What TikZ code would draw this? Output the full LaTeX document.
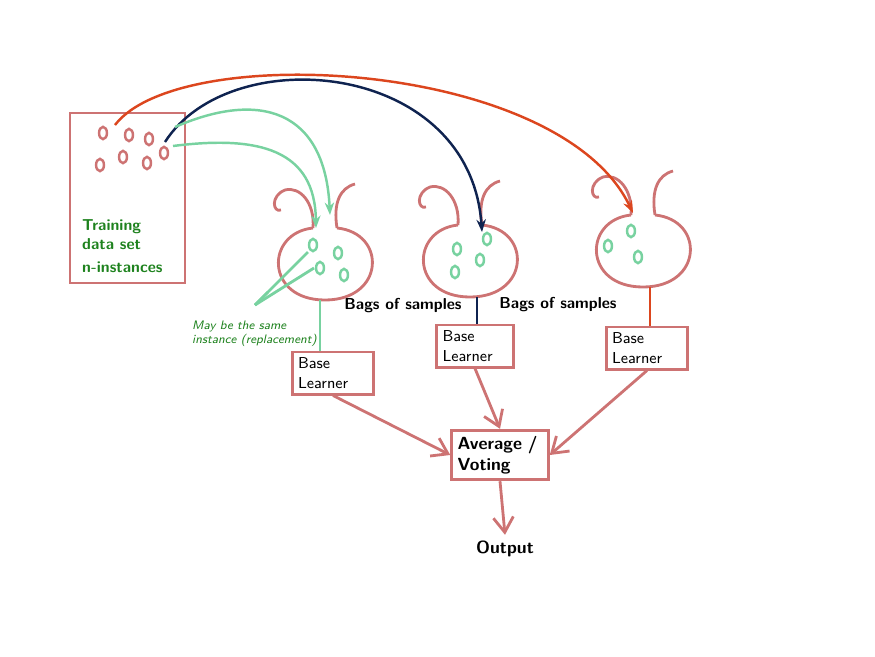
\documentclass[tikz,border=0pt]{standalone}
\usepackage{tikz}
\usetikzlibrary{positioning}
\usetikzlibrary{arrows.meta}
\usetikzlibrary{shapes.geometric}
\definecolor{pinkline}{RGB}{205,115,115}
\definecolor{mintline}{RGB}{120,210,160}
\definecolor{navyline}{RGB}{15,35,80}
\definecolor{redline}{RGB}{220,70,30}
\definecolor{darkgreen}{RGB}{30,130,30}
\tikzset{
  box/.style={rectangle,draw=pinkline,line width=1.6pt,align=left,font=\sffamily\small},
  bigarrow/.style={-{Straight Barb[length=3mm,width=4mm]},draw=pinkline,line width=1.6pt},
  curvearrow/.style={-{Stealth[length=2.5mm]},line width=1.4pt},
  bagline/.style={draw=pinkline,line width=1.6pt},
  seed/.style={ellipse,draw,line width=1.4pt,minimum width=4.5pt,minimum height=7pt,inner sep=0pt},
  caption/.style={font=\sffamily\bfseries\small},
}
\newcommand{\bagshape}[1]{%
  \begin{scope}[shift={(#1)}]
    \draw[bagline] (-12,-30) .. controls (-60,-25) and (-60,42) .. (0,42)
      .. controls (60,42) and (62,-25) .. (12,-30);
    \draw[bagline] (-12,-30) .. controls (-10,-55) and (-25,-72) .. (-40,-68)
      .. controls (-55,-62) and (-52,-45) .. (-44,-48);
    \draw[bagline] (12,-30) .. controls (8,-55) and (15,-70) .. (30,-74);
  \end{scope}}
\begin{document}
\begin{tikzpicture}[x=0.02cm,y=-0.02cm]
  \useasboundingbox (0,0) rectangle (875,656);

  % training data
  \draw[bagline] (70,113) rectangle (185,283);
  \node[font=\sffamily\bfseries\small,text=darkgreen,align=left,anchor=north west]
      (train) at (76,213) {Training\\data set};
  \node[font=\sffamily\bfseries\small,text=darkgreen,anchor=west]
      (ninst) at (76,267) {n-instances};
  \foreach \p in {(103,133),(129,135),(149,139),(100,165),(123,157),(147,163),(164,153)}
    \node[seed,draw=pinkline] at \p {};

  % bags
  \bagshape{325,258}
  \bagshape{470,255}
  \bagshape{643,245}
  \foreach \p in {(313,245),(338,253),(320,268),(344,275)}
    \node[seed,draw=mintline] at \p {};
  \foreach \p in {(457,249),(487,239),(480,260),(455,272)}
    \node[seed,draw=mintline] at \p {};
  \foreach \p in {(608,246),(631,231),(638,257)}
    \node[seed,draw=mintline] at \p {};

  \coordinate (bagA) at (320,300);
  \coordinate (bagB) at (477,297);
  \coordinate (bagC) at (650,287);

  \node[caption] (bagsA) at (403,306) {Bags of samples};
  \node[caption] (bagsB) at (558,305) {Bags of samples};

  % replacement note
  \node[font=\sffamily\itshape\scriptsize,text=darkgreen,align=left,anchor=north west]
      (note) at (186,315) {May be the same\\instance (replacement)};
  \coordinate (fork) at (255,305);
  \draw[mintline,line width=1.6pt] (fork) -- (308,252);
  \draw[mintline,line width=1.6pt] (fork) -- (314,268);
  \draw[mintline,line width=1.6pt] (fork) -- (268,292);

  % learners
  \node[box,text width=14mm] (learnA) at (333,373) {Base\\Learner};
  \node[box,text width=13mm] (learnB) at (475,346) {Base\\Learner};
  \node[box,text width=14mm] (learnC) at (647,348) {Base\\Learner};
  \node[box,font=\sffamily\bfseries,text width=17mm,minimum height=9mm] (vote) at (500,455) {Average /\\Voting};
  \node[caption,font=\sffamily\bfseries] (out) at (505,549) {Output};

  \draw[mintline,line width=1.6pt] (bagA) -- (bagA |- learnA.north);
  \draw[navyline,line width=1.6pt] (bagB) -- (bagB |- learnB.north);
  \draw[redline,line width=1.6pt] (bagC) -- (bagC |- learnC.north);

  \draw[bigarrow] (learnA.south) -- (vote.west);
  \draw[bigarrow] (learnB.south) -- (vote.north);
  \draw[bigarrow] (learnC.south) -- (vote.east);
  \draw[bigarrow] (vote.south) -- (out.north);

  % sampling curves
  \draw[curvearrow,draw=redline] (115,125) .. controls (180,40) and (560,60) .. (633,213);
  \draw[curvearrow,draw=navyline] (165,142) .. controls (230,40) and (470,60) .. (482,232);
  \draw[curvearrow,draw=mintline] (175,127) .. controls (260,90) and (325,110) .. (330,215);
  \draw[curvearrow,draw=mintline] (173,146) .. controls (260,135) and (315,150) .. (316,228);
\end{tikzpicture}
\end{document}
